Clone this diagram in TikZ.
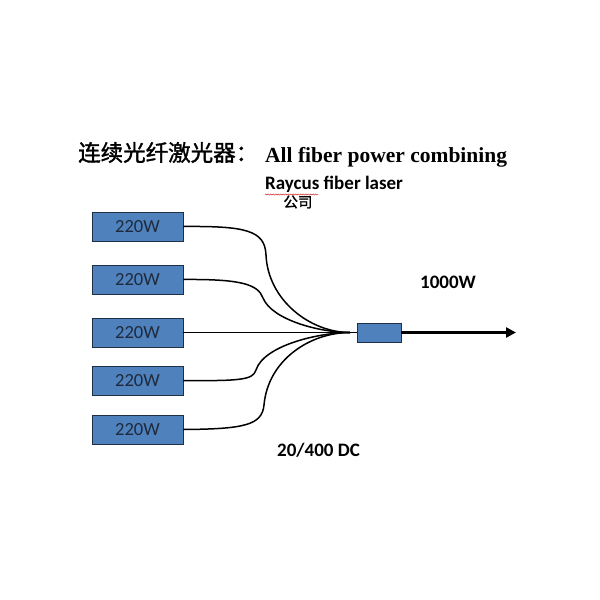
\documentclass[tikz,border=0pt]{standalone}
\usepackage{fontspec}
\setmainfont{Liberation Serif}
\newfontfamily\cjkfont[AutoFakeBold=1.5]{Noto Sans CJK SC}
\newfontfamily\calfont{Carlito}
\usetikzlibrary{arrows.meta,decorations.pathmorphing}
\definecolor{boxblue}{HTML}{4F81BD}
\definecolor{boxedge}{HTML}{1F2F45}
\definecolor{txtblue}{HTML}{1F2A3C}
\begin{document}
\begin{tikzpicture}[x=1pt,y=-1pt,
  srcbox/.style={draw=boxedge,fill=boxblue,line width=0.8pt,minimum width=91pt,minimum height=29pt,inner sep=0pt,
    font=\calfont\fontsize{18.5}{18.5}\selectfont,text=txtblue},
  fiber/.style={line width=1.5pt,black},
  lbl/.style={font=\calfont\bfseries\fontsize{19}{19}\selectfont,inner sep=0pt}]
\useasboundingbox (0,0) rectangle (600,600);
% title
\node[anchor=base west,inner sep=0pt] (title1) at (78,161)
  {\cjkfont\fontsize{22.5}{22.5}\selectfont\bfseries 连续光纤激光器：};
\node[anchor=base west,inner sep=0pt] (title2) at (265,162)
  {\bfseries\fontsize{21.5}{21.5}\selectfont All fiber power combining};
\node[lbl,anchor=base west] (raycus) at (265,189) {Raycus fiber laser};
\node[font=\cjkfont\bfseries\fontsize{14.5}{14.5}\selectfont,inner sep=0pt] (gs) at (298,202) {公司};
\draw[red!80!black,line width=0.4pt,decorate,decoration={snake,amplitude=0.6pt,segment length=2.5pt}]
  (265,194.5) -- (318,194.5);
% source boxes
\node[srcbox] (s1) at (137.5,226.5) {220W};
\node[srcbox] (s2) at (137.5,279.5) {220W};
\node[srcbox] (s3) at (137.5,332.5) {220W};
\node[srcbox] (s4) at (137.5,380.5) {220W};
\node[srcbox] (s5) at (137.5,429.5) {220W};
% combiner
\node[draw=boxedge,fill=boxblue,line width=0.8pt,minimum width=44pt,minimum height=19pt,inner sep=0pt] (comb) at (379,332.5) {};
\coordinate (m) at (350,332.5);
\coordinate (out) at (516,332.5);
% fibers
\draw[fiber] (s1.east) .. controls (245,226) and (265,230) .. (266,255)
  .. controls (268,300) and (310,332.5) .. (m);
\draw[fiber] (s2.east) .. controls (240,279) and (258,284) .. (263,298)
  .. controls (272,320) and (320,332.5) .. (m);
\draw[fiber] (s3.east) -- (m);
\draw[fiber] (s4.east) .. controls (240,381) and (253,380) .. (256,370)
  .. controls (264,345) and (320,332.5) .. (m);
\draw[fiber] (s5.east) .. controls (245,429) and (262,425) .. (264,405)
  .. controls (268,360) and (310,332.5) .. (m);
\draw[fiber] (m) -- (comb.west);
\draw[line width=3pt,-{Triangle[length=10pt,width=10pt]}] (comb.east) -- (out);
% labels
\node[lbl,anchor=west] (p1) at (420,282) {1000W};
\node[lbl,anchor=west] (dc) at (277,450) {20/400 DC};
\end{tikzpicture}
\end{document}
